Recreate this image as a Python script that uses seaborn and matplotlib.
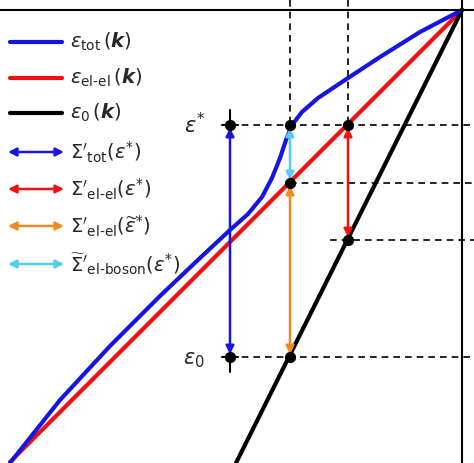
import matplotlib
matplotlib.use("Agg")
import matplotlib.pyplot as plt
import seaborn as sns
import pandas as pd
import numpy as np

sns.set_style("white")
plt.rcParams['font.family'] = ['DejaVu Sans']

# schematic dispersion curves (pixel-like units, y downward)
blue_x = [462, 420, 380, 345, 318, 302, 292, 286, 280, 272, 262, 248, 230, 200, 160, 110, 60, 10]
blue_y = [10, 32, 57, 80, 98, 112, 125, 140, 158, 178, 197, 214, 230, 258, 296, 346, 400, 463]
red_x = [462, 10]
red_y = [10, 462]
black_x = [462, 236]
black_y = [10, 463]

fig = plt.figure(figsize=(4.74, 4.63), dpi=100)
ax = fig.add_axes([0, 0, 1, 1])
sns.lineplot(x=red_x, y=red_y, color='#ee1111', lw=3, ax=ax, sort=False)
sns.lineplot(x=black_x, y=black_y, color='black', lw=3, ax=ax, sort=False)
sns.lineplot(x=blue_x, y=blue_y, color='#1515e0', lw=3, ax=ax, sort=False)

ax.set_xlim(0, 474); ax.set_ylim(463, 0)
ax.axis('off')
# frame lines top and right
ax.plot([0, 474], [10, 10], color='black', lw=1.5)
ax.plot([462, 462], [0, 463], color='black', lw=1.5)

dk = dict(color='black', lw=1.2, ls=(0, (4, 3)))
ax.plot([290, 290], [0, 357], **dk)
ax.plot([348, 348], [0, 240], **dk)
ax.plot([230, 474], [125, 125], **dk)
ax.plot([290, 474], [183, 183], **dk)
ax.plot([330, 474], [240, 240], **dk)
ax.plot([230, 474], [357, 357], **dk)
ax.plot([222, 238], [125, 125], color='black', lw=1.5)
ax.plot([222, 238], [357, 357], color='black', lw=1.5)
ax.plot([230, 230], [110, 125], color='black', lw=1.5)
ax.plot([230, 230], [357, 372], color='black', lw=1.5)

def arr(x, y0, y1, c):
    ax.annotate('', xy=(x, y1), xytext=(x, y0),
                arrowprops=dict(arrowstyle='<|-|>', color=c, lw=1.8, mutation_scale=12, shrinkA=2, shrinkB=2))

arr(230, 125, 357, '#1515e0')
arr(290, 125, 183, '#55ccf0')
arr(290, 183, 357, '#f08a1a')
arr(348, 125, 240, '#ee1111')

px = [230, 290, 348, 290, 348, 230, 290]
py = [125, 125, 125, 183, 240, 357, 357]
ax.scatter(px, py, s=50, color='black', zorder=5)

ax.text(205, 125, r'$\varepsilon^{*}$', fontsize=15, ha='right', va='center')
ax.text(205, 360, r'$\varepsilon_0$', fontsize=15, ha='right', va='center')

labels = [r'$\varepsilon_{\rm tot}\,(\mathbfit{k})$', r'$\varepsilon_{\rm el\text{-}el}\,(\mathbfit{k})$',
          r'$\varepsilon_{0}\,(\mathbfit{k})$', r"$\Sigma'_{\rm tot}(\varepsilon^{*})$",
          r"$\Sigma'_{\rm el\text{-}el}(\varepsilon^{*})$", r"$\Sigma'_{\rm el\text{-}el}(\widetilde{\varepsilon}^{*})$",
          r"$\widetilde{\Sigma}'_{\rm el\text{-}boson}(\varepsilon^{*})$"]
colors = ['#1515e0', '#ee1111', 'black', '#1515e0', '#ee1111', '#f08a1a', '#55ccf0']
ly = [42, 78, 113, 152, 189, 226, 264]
for i, (lab, c, y) in enumerate(zip(labels, colors, ly)):
    if i < 3:
        ax.plot([10, 62], [y, y], color=c, lw=3)
    else:
        ax.annotate('', xy=(64, y), xytext=(8, y),
                    arrowprops=dict(arrowstyle='<|-|>', color=c, lw=1.8, mutation_scale=12, shrinkA=0, shrinkB=0))
    ax.text(70, y, lab, fontsize=14, va='center', ha='left')

fig.savefig('out.png', dpi=100)
